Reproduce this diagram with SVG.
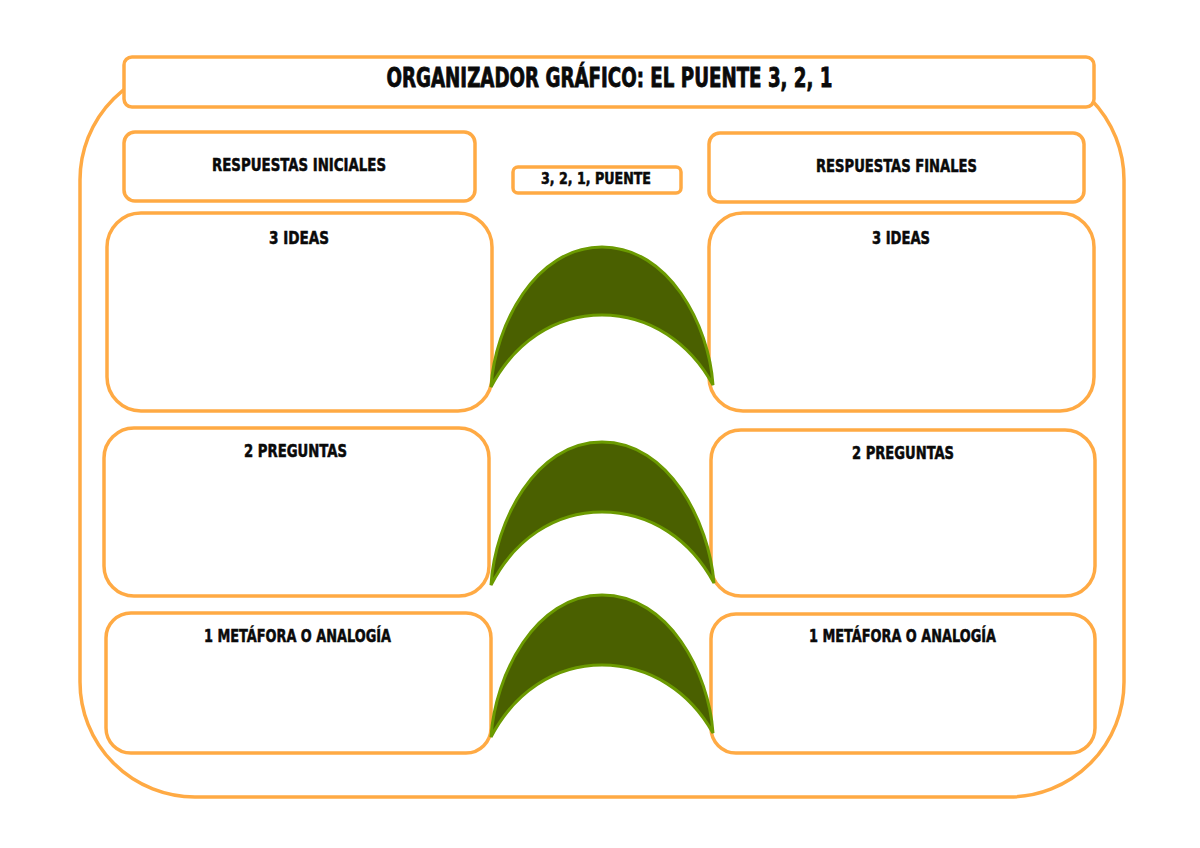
<svg xmlns="http://www.w3.org/2000/svg" width="1200" height="848" viewBox="0 0 1200 848">
<style>
.box{fill:#fff;stroke:#FFAA44;stroke-width:3.5}
.frame{fill:#fff;stroke:#FFAA44;stroke-width:3.5}
.bridge{fill:#4A6000;stroke:#6B9A00;stroke-width:3;stroke-linejoin:miter}
text{font-family:'DejaVu Sans Condensed','Liberation Sans Narrow','DejaVu Sans',sans-serif;font-weight:bold;fill:#0a0a0a;stroke:#0a0a0a;stroke-width:0.5;text-anchor:middle}
.lbl{font-size:17px}
.sm{font-size:15px}
.ttl{font-size:26px;stroke-width:0.8}
</style>
<rect width="1200" height="848" fill="#fff"/>
<g id="frame"><rect class="frame" x="80" y="65" width="1044" height="732" rx="115" ry="115"/></g>
<g id="title"><rect class="box" x="124" y="57" width="970" height="50" rx="8"/><text class="ttl" x="609.5" y="87" textLength="446" lengthAdjust="spacingAndGlyphs">ORGANIZADOR GRÁFICO: EL PUENTE 3, 2, 1</text></g>
<g id="resp-iniciales"><rect class="box" x="124" y="132" width="351" height="69" rx="11"/><text class="lbl" x="299" y="171" textLength="174" lengthAdjust="spacingAndGlyphs">RESPUESTAS INICIALES</text></g>
<g id="puente"><rect class="box" x="513" y="167" width="168" height="26" rx="5"/><text class="sm" x="596" y="184" textLength="110" lengthAdjust="spacingAndGlyphs">3, 2, 1, PUENTE</text></g>
<g id="resp-finales"><rect class="box" x="709" y="133" width="375" height="69" rx="11"/><text class="lbl" x="896.5" y="172" textLength="161" lengthAdjust="spacingAndGlyphs">RESPUESTAS FINALES</text></g>
<g id="ideas-ini"><rect class="box" x="107" y="213" width="385" height="198" rx="34"/><text class="lbl" x="299" y="244" textLength="60" lengthAdjust="spacingAndGlyphs">3 IDEAS</text></g>
<g id="ideas-fin"><rect class="box" x="709" y="213" width="385" height="198" rx="34"/><text class="lbl" x="901" y="244" textLength="58" lengthAdjust="spacingAndGlyphs">3 IDEAS</text></g>
<g id="preg-ini"><rect class="box" x="104" y="428" width="385" height="168" rx="30"/><text class="lbl" x="295.5" y="457" textLength="103" lengthAdjust="spacingAndGlyphs">2 PREGUNTAS</text></g>
<g id="preg-fin"><rect class="box" x="711" y="430" width="384" height="166" rx="30"/><text class="lbl" x="903" y="459" textLength="102" lengthAdjust="spacingAndGlyphs">2 PREGUNTAS</text></g>
<g id="meta-ini"><rect class="box" x="106" y="613" width="385" height="140" rx="25"/><text class="lbl" x="297.5" y="642" textLength="187" lengthAdjust="spacingAndGlyphs">1 METÁFORA O ANALOGÍA</text></g>
<g id="meta-fin"><rect class="box" x="711" y="614" width="384" height="139" rx="25"/><text class="lbl" x="902.5" y="642" textLength="187" lengthAdjust="spacingAndGlyphs">1 METÁFORA O ANALOGÍA</text></g>
<g id="bridges">
<path class="bridge" d="M491,387 C495,325 535,247 602,247 C669,247 709,325 713,385 C690,343 650,315 602,315 C554,315 514,343 491,387 Z"/>
<path class="bridge" d="M491,585 C495,522 535,442 602,442 C669,442 709,522 714,583 C691,540 651,512 602,512 C554,512 514,540 491,585 Z"/>
<path class="bridge" d="M491,737 C495,675 535,595 602,595 C669,595 709,673 713,733 C690,692 650,665 602,665 C554,665 514,693 491,737 Z"/>
</g>
</svg>
